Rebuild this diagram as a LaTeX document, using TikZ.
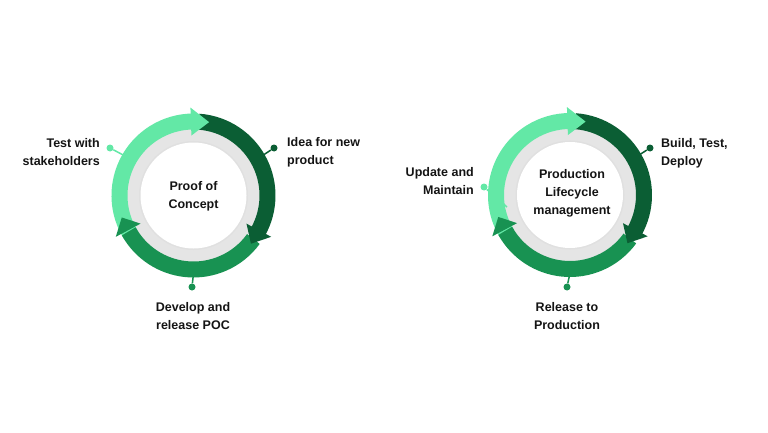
\documentclass[tikz,border=0pt]{standalone}
\usepackage{fontspec}
\setmainfont{Liberation Sans}
\usetikzlibrary{calc}
\definecolor{gLight}{RGB}{99,232,166}
\definecolor{gDark}{RGB}{11,94,52}
\definecolor{gMid}{RGB}{24,146,82}
\definecolor{ringGrey}{RGB}{229,229,229}
\definecolor{txt}{RGB}{20,20,20}
\newcommand{\ringbody}[4]{\draw[line width=16pt,#2] ($(#1)+(#3:74pt)$) arc[start angle=#3,end angle=#4,radius=74pt];}
\newcommand{\ringhead}[4]{\fill[#2] ($(#1)+(#3:60pt)$) -- ($(#1)+(#3:88pt)$) -- ($(#1)+(#4:75pt)$) -- cycle;}
\newcommand{\ringbase}[1]{%
  \fill[ringGrey] (#1) circle[radius=67pt];
  \draw[black!12,line width=2pt] (#1) circle[radius=53.5pt];
  \fill[white] (#1) circle[radius=53pt];}
\begin{document}
\begin{tikzpicture}[x=1pt,y=1pt,
  lbl/.style={font=\bfseries\fontsize{12.5}{18}\selectfont,text=txt,inner sep=0pt},
  dotL/.style={circle,fill=gLight,minimum size=7pt,inner sep=0pt},
  dotD/.style={circle,fill=gDark,minimum size=7pt,inner sep=0pt},
  dotM/.style={circle,fill=gMid,minimum size=7pt,inner sep=0pt},
  conn/.style={line width=1.5pt}]
\fill[white] (0,0) rectangle (768,432);
\useasboundingbox (0,0) rectangle (768,432);
\coordinate (cL) at (193.5,236.5);
\coordinate (cR) at (570,237);
% connector ends on rings
\coordinate (eTest) at ($(cL)+(150:78)$);
\coordinate (eIdea) at ($(cL)+(30:78)$);
\coordinate (eDev) at ($(cL)+(-90:78)$);
\coordinate (eBuild) at ($(cR)+(30:78)$);
\coordinate (eRel) at ($(cR)+(-90:78)$);
\coordinate (eUpd) at (507,225);
% dots
\node[dotL] (dTest) at (110,284) {};
\node[dotD] (dIdea) at (274,284) {};
\node[dotM] (dDev) at (192,145) {};
\node[dotD] (dBuild) at (650,284) {};
\node[dotM] (dRel) at (567,145) {};
\draw[conn,gLight] (dTest) -- (eTest);
\draw[conn,gDark] (dIdea) -- (eIdea);
\draw[conn,gMid] (dDev) -- (eDev);
\draw[conn,gDark] (dBuild) -- (eBuild);
\draw[conn,gMid] (dRel) -- (eRel);
% rings
\ringbase{cL}
\ringbase{cR}
\node[dotL] (dUpd) at (484,245) {};
\draw[conn,gLight] (dUpd) -- (eUpd);
\foreach \c in {cL,cR}{
  \ringbody{\c}{gLight}{212}{90}
  \ringbody{\c}{gDark}{86}{-29}
  \ringbody{\c}{gMid}{-36}{-151}
  \ringhead{\c}{gLight}{92}{78}
  \ringhead{\c}{gDark}{-28}{-40}
  \ringhead{\c}{gMid}{-152}{-163}
}
% labels
\node[lbl,anchor=east,align=right] (tTest) at (100,280) {Test with\\stakeholders};
\node[lbl,anchor=west,align=left] (tIdea) at (287,280) {Idea for new\\product};
\node[lbl,align=center] (tDev) at (193,116) {Develop and\\release POC};
\node[lbl,align=center] (tPoc) at (193.5,236) {Proof of\\Concept};
\node[lbl,anchor=west,align=left] (tBuild) at (661,278.5) {Build, Test,\\Deploy};
\node[lbl,anchor=east,align=right] (tUpd) at (474,251) {Update and\\Maintain};
\node[lbl,align=center] (tRel) at (567,116) {Release to\\Production};
\node[lbl,align=center] (tPlm) at (572,238.5) {Production\\Lifecycle\\management};
\end{tikzpicture}
\end{document}
